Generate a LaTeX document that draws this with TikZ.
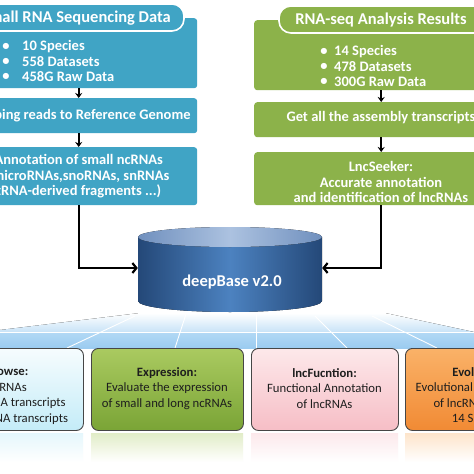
\documentclass[tikz,border=0pt]{standalone}
\usepackage{fontspec}
\setmainfont{Carlito}
\usetikzlibrary{arrows.meta,calc}
\definecolor{sblue}{RGB}{64,164,197}
\definecolor{sgreen}{RGB}{140,178,74}
\definecolor{cyldark}{RGB}{36,72,120}
\definecolor{cyllight}{RGB}{76,130,192}
\definecolor{cyltopA}{RGB}{112,144,190}
\definecolor{cyltopB}{RGB}{172,194,224}
\definecolor{platA}{RGB}{200,227,247}
\definecolor{platB}{RGB}{178,217,245}
\definecolor{platC}{RGB}{155,203,240}
\definecolor{boxline}{RGB}{70,70,70}
\definecolor{txtc}{RGB}{30,30,30}
\definecolor{cyanA}{RGB}{246,252,254}
\definecolor{cyanB}{RGB}{196,236,248}
\definecolor{greenA}{RGB}{170,202,96}
\definecolor{greenB}{RGB}{122,164,54}
\definecolor{pinkA}{RGB}{253,232,234}
\definecolor{pinkB}{RGB}{246,190,198}
\definecolor{orA}{RGB}{250,178,104}
\definecolor{orB}{RGB}{241,138,52}
\begin{document}
\begin{tikzpicture}[x=1pt,y=-1pt,
  colbox/.style={rectangle, rounded corners=3pt, inner sep=0pt, anchor=north west},
  wtext/.style={text=white, font=\bfseries\fontsize{14.5}{15.5}\selectfont, inner sep=0pt, align=center},
  htext/.style={text=white, font=\bfseries\fontsize{16.5}{18}\selectfont, inner sep=0pt},
  btext/.style={text=txtc, font=\fontsize{12.7}{15.5}\selectfont, align=center, inner sep=0pt},
  smallarr/.style={-{Stealth[length=5pt,width=7pt]}, line width=1.6pt, black},
  bigarr/.style={-{Straight Barb[length=4pt,width=10pt]}, line width=2.2pt, black},
  bottombox/.style={rectangle, rounded corners=7pt, draw=boxline, line width=0.9pt, anchor=north west, inner sep=0pt, minimum height=82pt},
  tabline/.style={draw=white, line width=1.6pt, rounded corners=12pt},
  gridline/.style={white, line width=0.9pt}
]
\useasboundingbox (0,0) rectangle (474,474);
\clip (0,0) rectangle (474,474);
\fill[white] (0,0) rectangle (474,474);

% ---------- left column ----------
\node[colbox, fill=sblue, minimum width=237pt, minimum height=70pt] (L1) at (-40,18) {};
\node[colbox, fill=sblue, minimum width=237pt, minimum height=35pt] (L2) at (-40,98) {};
\node[colbox, fill=sblue, minimum width=237pt, minimum height=58pt] (L3) at (-40,147) {};
\path[tabline, fill=sblue] (-40,4) -- (184,4) -- (184,31) -- (-40,31);
\node[htext, anchor=east] (Lh) at (171,18) {Small RNA Sequencing Data};
\node[wtext] (lb1) at (6,47) {•};
\node[wtext] (lb2) at (6,62) {•};
\node[wtext] (lb3) at (6,77) {•};
\node[wtext, anchor=west] (lt1) at (22,47) {10 Species};
\node[wtext, anchor=west] (lt2) at (22,62) {558 Datasets};
\node[wtext, anchor=west] (lt3) at (22,77) {458G Raw Data};
\node[wtext] (L2t) at (L2.center) {Mapping reads to Reference Genome};
\node[wtext] (L3t) at (L3.center) {Annotation of small ncRNAs\\(microRNAs,snoRNAs, snRNAs\\tRNA-derived fragments ...)};

% ---------- right column ----------
\node[colbox, fill=sgreen, minimum width=254pt, minimum height=70pt] (R1) at (254,20) {};
\node[colbox, fill=sgreen, minimum width=254pt, minimum height=35pt] (R2) at (254,102) {};
\node[colbox, fill=sgreen, minimum width=254pt, minimum height=53pt] (R3) at (254,152) {};
\path[tabline, fill=sgreen] (520,6) -- (279,6) -- (279,33) -- (520,33);
\node[htext] (Rh) at (381,20) {RNA-seq Analysis Results};
\node[wtext] (rb1) at (324,52) {•};
\node[wtext] (rb2) at (324,67) {•};
\node[wtext] (rb3) at (324,82) {•};
\node[wtext, anchor=west] (rt1) at (334,52) {14 Species};
\node[wtext, anchor=west] (rt2) at (334,67) {478 Datasets};
\node[wtext, anchor=west] (rt3) at (334,82) {300G Raw Data};
\node[wtext] (R2t) at (381,118) {Get all the assembly transcripts};
\node[wtext] (R3t) at (381,182) {LncSeeker:\\Accurate annotation\\and identification of lncRNAs};

% ---------- database cylinder ----------
\fill[left color=cyldark, right color=cyldark, middle color=cyllight]
  (138,237) -- (138,301) arc[start angle=180, end angle=0, x radius=92, y radius=11] -- (322,237) -- cycle;
\fill[left color=cyltopA, right color=cyltopA, middle color=cyltopB] (230,237) ellipse [x radius=92, y radius=10];
\node[minimum width=184pt, minimum height=64pt, inner sep=0pt] (db) at (230,268) {};
\node[text=white, font=\bfseries\fontsize{16.5}{18}\selectfont, inner sep=0pt] (dbt) at (232,282) {deepBase v2.0};

% ---------- connectors ----------
\draw[smallarr] (L1.south) -- (L2.north);
\draw[smallarr] (L2.south) -- (L3.north);
\draw[smallarr] (R1.south) -- (R2.north);
\draw[smallarr] (R2.south) -- (R3.north);
\draw[bigarr] (L3.south) |- (db.west);
\draw[bigarr] (R3.south) |- (db.east);

% ---------- platform ----------
\fill[top color=white, bottom color=platA] (0,332) -- (0,330) -- (140,313) -- (385,313) -- (474,332) -- cycle;
\fill[top color=platB, bottom color=platC] (0,332) rectangle (474,348);
\draw[gridline] (0,332) -- (474,332);
\draw[gridline] (67,348) -- (135,316);
\draw[gridline] (175,348) -- (186,314);
\draw[gridline] (256,348) -- (256,314);
\draw[gridline] (347,348) -- (315,316);
\draw[gridline] (437,348) -- (372,316);

% ---------- reflections ----------
\fill[top color=cyanB!45!white, bottom color=white] (-70,433) rectangle (83,462);
\fill[top color=greenA!35!white, bottom color=white] (91,433) rectangle (243,462);
\fill[top color=pinkB!35!white, bottom color=white] (251,433) rectangle (398,462);
\fill[top color=orA!35!white, bottom color=white] (405,433) rectangle (555,462);

% ---------- bottom boxes ----------
\node[bottombox, top color=cyanA, bottom color=cyanB, minimum width=153pt] (B1) at (-70,348) {};
\node[bottombox, top color=greenA, bottom color=greenB, minimum width=152pt] (B2) at (91,348) {};
\node[bottombox, top color=pinkA, bottom color=pinkB, minimum width=147pt] (B3) at (251,348) {};
\node[bottombox, top color=orA, bottom color=orB, minimum width=150pt] (B4) at (405,348) {};
\node[btext] (B1t) at (7,396) {\textbf{Browse:}\\ncRNAs\\long ncRNA transcripts\\small ncRNA transcripts};
\node[btext] (B2t) at (167,388.5) {\textbf{Expression:}\\Evaluate the expression\\of small and long ncRNAs};
\node[btext] (B3t) at (324.5,388.5) {\textbf{lncFucntion:}\\Functional Annotation\\of lncRNAs};
\node[btext] (B4t) at (479,396) {\textbf{Evolution:}\\Evolutional conservation\\of lncRNAs across\\14 Species};
\end{tikzpicture}
\end{document}
